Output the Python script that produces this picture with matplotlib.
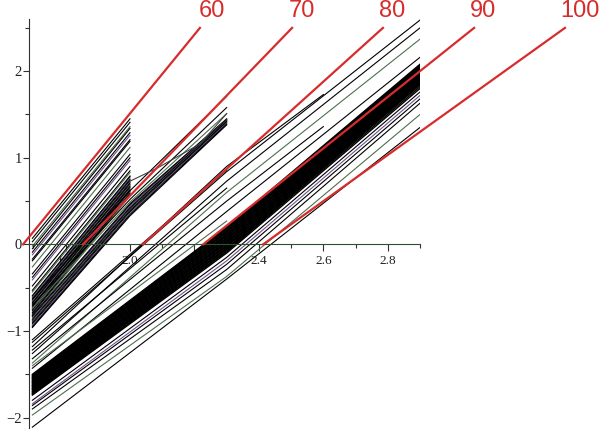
# overlaid log-log curves with red reference lines
import matplotlib as mpl
mpl.use('Agg')
import matplotlib.pyplot as plt

# shortest curves, stop at x = 2.0
a_x = [1.697, 2.0]
a_start = [0.07, 0.03, -0.02, -0.05, -0.09, -0.12, -0.17, -0.19, -0.26,
           -0.34, -0.38, -0.41, -0.48, -0.53, -0.55,
           -0.59, -0.60, -0.615, -0.63, -0.645, -0.66, -0.672, -0.685, -0.70, -0.712, -0.725, -0.74, -0.752,
           -0.765, -0.78, -0.79, -0.805, -0.82]
a_end = [1.45, 1.41, 1.36, 1.34, 1.29, 1.26, 1.21, 1.19, 1.12,
         1.04, 1.0, 0.97, 0.90, 0.85, 0.83,
         0.79, 0.78, 0.765, 0.75, 0.735, 0.72, 0.71, 0.695, 0.68, 0.67, 0.655, 0.64, 0.63,
         0.615, 0.60, 0.59, 0.575, 0.56]

# middle curves, stop at x = 2.3
b_x = [1.697, 2.0, 2.3]
b_start = [-0.63, -0.70, -0.74, -0.82, -0.835, -0.85, -0.865, -0.88, -0.89, -0.905, -0.92,
           -0.935, -0.95, -0.96]
b_mid = [0.62, 0.52, 0.49, 0.47, 0.455, 0.44, 0.425, 0.41, 0.40, 0.39, 0.375, 0.36, 0.345, 0.33]
b_end = [1.71, 1.58, 1.51, 1.45, 1.445, 1.44, 1.435, 1.43, 1.425, 1.42, 1.41, 1.40, 1.39, 1.38]
kink_x = [2.0, 2.084, 2.217, 2.3]
kink_y = [0.73, 0.88, 1.16, 1.51]

# long curves, run to x = 2.9, the sparse ones
c_x = [1.697, 2.3, 2.9]
c_start = [-1.13, -1.26, -1.37, -1.43,
           -1.80, -1.84, -1.86, -1.90, -1.97, -2.11]
c_mid = [0.84, 0.73, 0.60, 0.38,
         -0.15, -0.19, -0.23, -0.29, -0.37, -0.40]
c_end = [2.59, 2.50, 2.37, 2.16,
         1.76, 1.72, 1.68, 1.63, 1.50, 1.35]

# long curves, the dense black band
band_start = [-1.50, -1.51, -1.52, -1.53, -1.54, -1.545, -1.555, -1.565, -1.575, -1.585, -1.59, -1.60, -1.61, -1.62,
              -1.63, -1.635, -1.645, -1.655, -1.665, -1.67, -1.68, -1.69, -1.70, -1.71, -1.72, -1.73, -1.74]
band_mid = [0.20, 0.19, 0.18, 0.17, 0.155, 0.145, 0.135, 0.12, 0.11, 0.10, 0.09, 0.075, 0.065, 0.055,
            0.04, 0.03, 0.02, 0.01, -0.005, -0.015, -0.025, -0.04, -0.05, -0.06, -0.075, -0.085, -0.10]
band_end = [2.08, 2.07, 2.06, 2.05, 2.04, 2.03, 2.02, 2.01, 2.0, 1.99, 1.98, 1.97, 1.96, 1.95,
            1.94, 1.93, 1.92, 1.91, 1.90, 1.89, 1.88, 1.87, 1.86, 1.85, 1.84, 1.82, 1.80]

# two curves that stop at x = 2.6
d_x = [1.697, 2.3, 2.6]
d_start = [-1.18, -1.32]
d_mid = [0.90, 0.50]
d_end = [1.73, 1.36]

# long-group curves that stop at x = 2.3
e_x = [1.697, 2.3]
e_start = [-1.10, -1.22, -1.40]
e_end = [0.86, 0.65, 0.27]

# red reference lines
ref_labels = ['60', '70', '80', '90', '100']
ref_x0 = [1.668, 1.854, 2.040, 2.227, 2.413]
ref_x1 = [2.217, 2.503, 2.785, 3.068, 3.350]
ref_y1 = 2.5
label_x = [2.214, 2.494, 2.773, 3.056, 3.335]
label_y = 2.63

x_major = [1.8, 2.0, 2.2, 2.4, 2.6, 2.8]
x_minor = [1.7, 1.9, 2.1, 2.3, 2.5, 2.7, 2.9]
y_major = [-2, -1, 0, 1, 2]
y_minor = [-1.5, -0.5, 0.5, 1.5, 2.5]

tints = ['black', 'black', '#4f6f4f', 'black', 'black', '#70508f']
thin = 0.8

fig = plt.figure(figsize=(6, 4.36), dpi=100)
ax1 = fig.add_axes([29/600, 8/436, 391/600, 409.3/436])

for i in range(0, len(a_start)):
  ax1.plot(a_x, [a_start[i], a_end[i]], color=tints[i % 6], lw=thin)
for i in range(0, len(b_start)):
  ax1.plot(b_x, [b_start[i], b_mid[i], b_end[i]], color=tints[i % 6], lw=thin)
ax1.plot(kink_x, kink_y, color='#404040', lw=thin)
for i in range(0, len(c_start)):
  ax1.plot(c_x, [c_start[i], c_mid[i], c_end[i]], color=tints[i % 6], lw=thin)
for i in range(0, len(band_start)):
  ax1.plot(c_x, [band_start[i], band_mid[i], band_end[i]], color='black', lw=1.0)
for i in range(0, len(d_start)):
  ax1.plot(d_x, [d_start[i], d_mid[i], d_end[i]], color='black', lw=thin)
for i in range(0, len(e_start)):
  ax1.plot(e_x, [e_start[i], e_end[i]], color=tints[i % 6], lw=thin)

for i in range(0, len(ref_labels)):
  ax1.plot([ref_x0[i], ref_x1[i]], [0, ref_y1], color='#d62c2c', lw=1.6, clip_on=False, zorder=5)
  ax1.text(label_x[i], label_y, ref_labels[i], color='#d62c2c', fontsize=17, family='Liberation Sans',
           ha='left', va='baseline', clip_on=False)

ax1.set_xlim(1.6865, 2.9)
ax1.set_ylim(-2.12, 2.606)
ax1.spines['top'].set_visible(False)
ax1.spines['right'].set_visible(False)
ax1.spines['bottom'].set_position(('data', 0))
ax1.spines['bottom'].set_color('#2f4f2f')
ax1.spines['left'].set_color('#303030')

ax1.set_xticks(x_major)
ax1.set_xticks(x_minor, minor=True)
ax1.set_xticklabels(['%.1f' % v for v in x_major], family='Liberation Serif', fontsize=9.5)
ax1.set_yticks(y_major)
ax1.set_yticks(y_minor, minor=True)
ax1.set_yticklabels(['\u2212%d' % -v if v < 0 else '%d' % v for v in y_major], family='Liberation Serif', fontsize=10.5)
ax1.tick_params(axis='x', which='major', length=5, width=0.8, pad=2.5, color='#303030', labelcolor='#202020')
ax1.tick_params(axis='x', which='minor', length=3, width=0.8, color='#303030')
ax1.tick_params(axis='y', which='major', length=4, width=0.8, pad=1, color='#303030', labelcolor='#202020')
ax1.tick_params(axis='y', which='minor', length=3, width=0.8, color='#303030')

plt.savefig('out.png', dpi=100)
plt.close()
